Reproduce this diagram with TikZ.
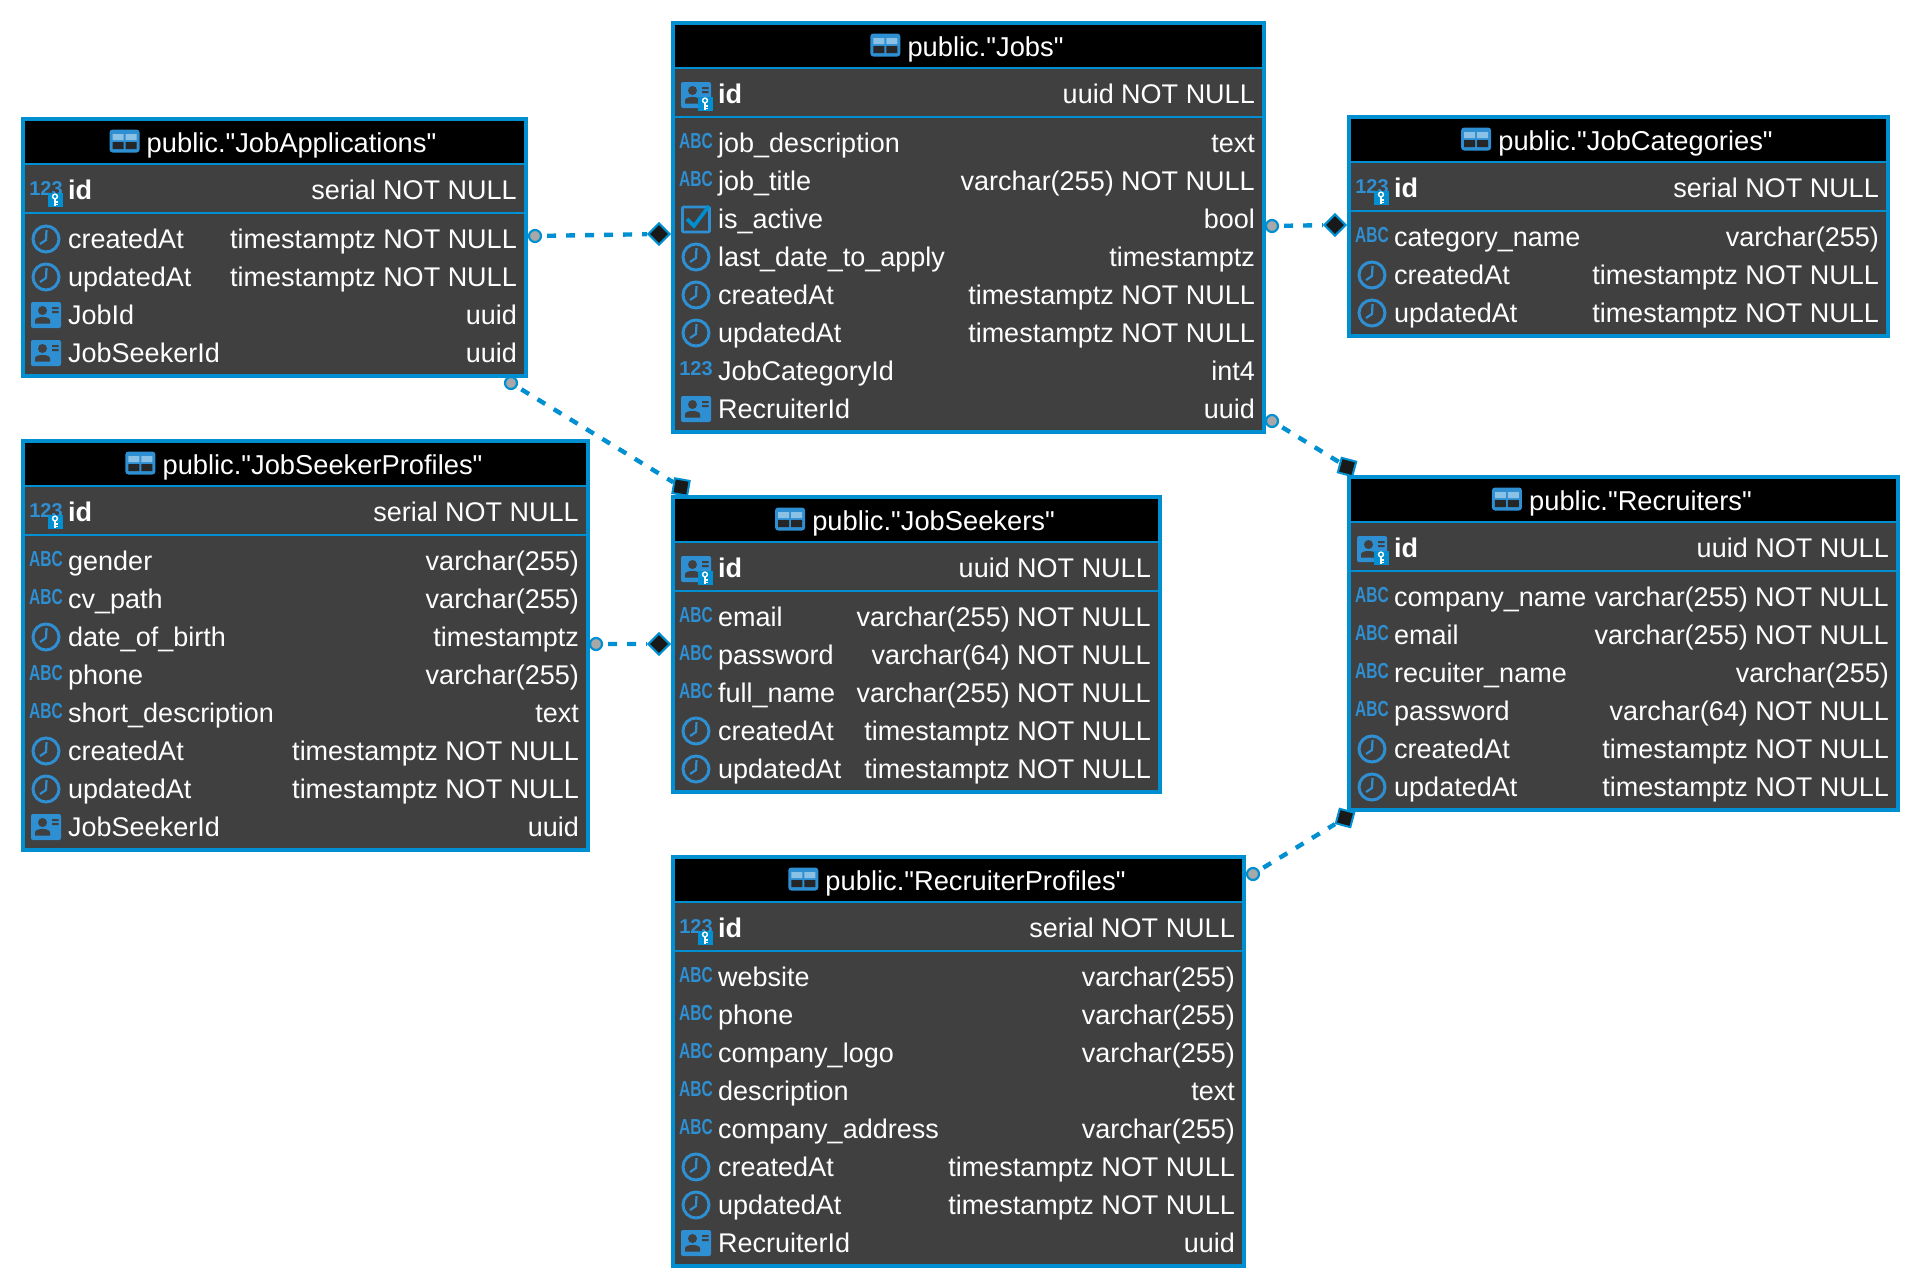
\documentclass[tikz,border=0pt]{standalone}
\usepackage{fontspec}
\newfontfamily\dbfont{Liberation Sans}
\definecolor{edgeblue}{HTML}{0090D2}
\definecolor{iconblue}{HTML}{2E8FD2}
\definecolor{cellgray}{HTML}{404040}
\definecolor{dotgray}{HTML}{A8A8A8}
\tikzset{
  tablebox/.style={draw=edgeblue, line width=4pt, fill=cellgray, inner sep=0pt, outer sep=0pt, anchor=north west},
  headbox/.style={fill=black, inner sep=0pt, outer sep=0pt, anchor=north west},
  sepline/.style={edgeblue, line width=2.4pt},
  titletext/.style={text=white, inner sep=0pt, anchor=base, font=\dbfont\fontsize{27.3}{30}\selectfont},
  fieldtext/.style={text=white, inner sep=0pt, anchor=base west, font=\dbfont\fontsize{27}{30}\selectfont},
  typetext/.style={text=white, inner sep=0pt, anchor=base east, font=\dbfont\fontsize{27}{30}\selectfont},
  icontext/.style={text=iconblue, inner sep=0pt},
  relline/.style={edgeblue, line width=4.4pt, dash pattern=on 9pt off 10pt, dash phase=14pt},
  relstart/.style={circle, draw=edgeblue, line width=2.2pt, fill=dotgray, inner sep=0pt, minimum size=12pt},
  relend/.style={rectangle, draw=edgeblue, line width=2pt, fill=black!90, inner sep=0pt, minimum size=15pt},
}
\newcommand{\icabc}[1]{\node[icontext, font=\dbfont\bfseries\fontsize{15.5}{16}\selectfont, yscale=1.4, transform shape] (#1) at (0,2) {ABC};}
\newcommand{\icnum}[1]{\node[icontext, font=\dbfont\bfseries\fontsize{20}{20}\selectfont] (#1) at (0,2) {123};}
\newcommand{\icclock}[1]{\draw[iconblue, line width=3pt] (0,0) circle (13);
  \draw[iconblue, line width=2.2pt] (0.5,9) -- (0,-1) -- (-6,-5);}
\newcommand{\iccard}[1]{\fill[iconblue, rounded corners=2pt] (-15,-13) rectangle (15,13);
  \fill[cellgray] (-3.5,4.5) circle (4.5);
  \fill[cellgray] (-11,-8.5) -- (-11,-5) .. controls (-10,-1) and (3,-1) .. (4,-5) -- (4,-8.5) -- cycle;
  \fill[cellgray] (6,6) rectangle (12.5,8) (6,2) rectangle (12.5,4);}
\newcommand{\iccheck}[1]{\draw[iconblue, line width=2.8pt, rounded corners=1pt] (-13.5,-13) rectangle (13.5,12);
  \draw[edgeblue, line width=3.6pt] (-9,0) -- (-2,-7) -- (13,13);}
\newcommand{\ickey}{\fill[edgeblue] (1.5,-15.5) rectangle (16.5,-1.5);
  \draw[white, line width=1.4pt] (9,-5.5) circle (2.4);
  \draw[white, line width=1.4pt] (9,-8) -- (9,-15) (9,-11) -- (11.5,-11) (9,-13.5) -- (11.5,-13.5);}
\newcommand{\dbtable}[9]{
  \node[tablebox, minimum width={#4-#2-4}, minimum height={38*#5+105}] (#1) at (#2+2,-#3-2) {};
  \node[headbox, minimum width={#4-#2-8}, minimum height=43] (#1-head) at (#2+4,-#3-4) {};
  \draw[sepline] (#1.west |- 0,-#3-47) -- (#1.east |- 0,-#3-47);
  \draw[sepline] (#1.west |- 0,-#3-96) -- (#1.east |- 0,-#3-96);
  \node[titletext] (#1-title) at ({(#2+#4)/2+17},-#3-35) {public."#6"};
  \begin{scope}[shift={([xshift=-22pt]#1-title.west |- 0,-#3-24)}]
    \fill[iconblue, rounded corners=3pt] (-15,-11.5) rectangle (15,11.5);
    \fill[black!85] (-12,-8) rectangle (-1,-1) (1,-8) rectangle (12,-1);
    \fill[iconblue!55!white] (-12,1) rectangle (-1,7) (1,1) rectangle (12,7);
  \end{scope}
  \begin{scope}[shift={(#2+25,-#3-74)}]
    \csname ic#7\endcsname{#1-id-icon}
    \ickey
  \end{scope}
  \node[fieldtext, font=\dbfont\bfseries\fontsize{27}{30}\selectfont] (#1-id) at (#2+47,-#3-82) {id};
  \node[typetext] (#1-id-type) at (#4-11,-#3-82) {#8};
  \foreach \ricon/\rfield/\rtype [count=\i] in {#9}{
    \begin{scope}[shift={(#2+25,{-#3-122-38*(\i-1)})}]
      \csname ic\ricon\endcsname{#1-r\i-icon}
    \end{scope}
    \node[fieldtext] (#1-r\i) at (#2+47,{-#3-131-38*(\i-1)}) {\rfield};
    \node[typetext] (#1-r\i-type) at (#4-11,{-#3-131-38*(\i-1)}) {\rtype};
  }
}
\begin{document}
\begin{tikzpicture}[x=1pt,y=1pt]
\useasboundingbox (0,0) rectangle (1920,-1288);
\dbtable{jobapps}{21}{117}{528}{4}{JobApplications}{num}{serial NOT NULL}{
  clock/createdAt/timestamptz NOT NULL, clock/updatedAt/timestamptz NOT NULL,
  card/JobId/uuid, card/JobSeekerId/uuid}
\dbtable{jobs}{671}{21}{1266}{8}{Jobs}{card}{uuid NOT NULL}{
  abc/job\_description/text, abc/job\_title/varchar(255) NOT NULL, check/is\_active/bool,
  clock/last\_date\_to\_apply/timestamptz, clock/createdAt/timestamptz NOT NULL,
  clock/updatedAt/timestamptz NOT NULL, num/JobCategoryId/int4, card/RecruiterId/uuid}
\dbtable{jobcats}{1347}{115}{1890}{3}{JobCategories}{num}{serial NOT NULL}{
  abc/category\_name/varchar(255), clock/createdAt/timestamptz NOT NULL,
  clock/updatedAt/timestamptz NOT NULL}
\dbtable{seekerprofs}{21}{439}{590}{8}{JobSeekerProfiles}{num}{serial NOT NULL}{
  abc/gender/varchar(255), abc/cv\_path/varchar(255), clock/date\_of\_birth/timestamptz,
  abc/phone/varchar(255), abc/short\_description/text, clock/createdAt/timestamptz NOT NULL,
  clock/updatedAt/timestamptz NOT NULL, card/JobSeekerId/uuid}
\dbtable{seekers}{671}{495}{1162}{5}{JobSeekers}{card}{uuid NOT NULL}{
  abc/email/varchar(255) NOT NULL, abc/password/varchar(64) NOT NULL,
  abc/full\_name/varchar(255) NOT NULL, clock/createdAt/timestamptz NOT NULL,
  clock/updatedAt/timestamptz NOT NULL}
\dbtable{recruiters}{1347}{475}{1900}{6}{Recruiters}{card}{uuid NOT NULL}{
  abc/company\_name/varchar(255) NOT NULL, abc/email/varchar(255) NOT NULL,
  abc/recuiter\_name/varchar(255), abc/password/varchar(64) NOT NULL,
  clock/createdAt/timestamptz NOT NULL, clock/updatedAt/timestamptz NOT NULL}
\dbtable{recprofs}{671}{855}{1246}{8}{RecruiterProfiles}{num}{serial NOT NULL}{
  abc/website/varchar(255), abc/phone/varchar(255), abc/company\_logo/varchar(255),
  abc/description/text, abc/company\_address/varchar(255), clock/createdAt/timestamptz NOT NULL,
  clock/updatedAt/timestamptz NOT NULL, card/RecruiterId/uuid}
\node[relstart] (rel1a) at (535,-236) {};
\node[relend, rotate=45] (rel1b) at (659,-234) {};
\node[relstart] (rel2a) at (1272,-226) {};
\node[relend, rotate=45] (rel2b) at (1335,-225) {};
\node[relstart] (rel3a) at (511,-383) {};
\node[relend, rotate=-10] (rel3b) at (681,-487) {};
\node[relstart] (rel4a) at (1272,-421) {};
\node[relend, rotate=-15] (rel4b) at (1347,-467) {};
\node[relstart] (rel5a) at (596,-644) {};
\node[relend, rotate=45] (rel5b) at (659,-644) {};
\node[relstart] (rel6a) at (1253,-874) {};
\node[relend, rotate=-15] (rel6b) at (1345,-818) {};
\foreach \ra/\rb in {rel1a/rel1b, rel2a/rel2b, rel3a/rel3b, rel4a/rel4b, rel5a/rel5b, rel6a/rel6b}
  \draw[relline] (\ra) -- (\rb);
\end{tikzpicture}
\end{document}
